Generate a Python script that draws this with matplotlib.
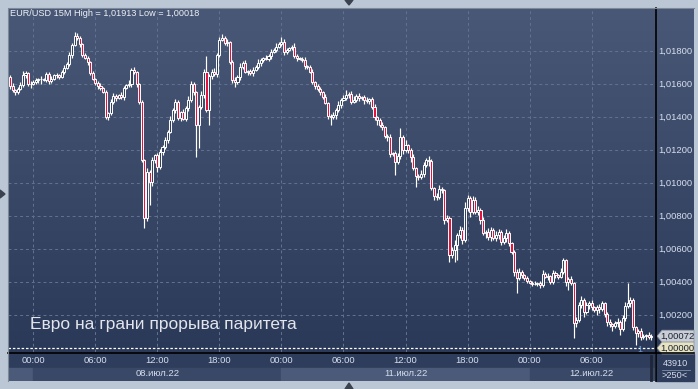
import numpy as np
import matplotlib
matplotlib.use("Agg")
import matplotlib.pyplot as plt
from matplotlib.colors import LinearSegmentedColormap
from matplotlib.lines import Line2D
from matplotlib.patches import Polygon
from matplotlib.transforms import blended_transform_factory

plt.rcParams['font.family'] = ['Liberation Sans', 'DejaVu Sans']

# EUR/USD 15M, цены закрытия по барам (открытие = закрытие предыдущего бара)
first_open = 1.01642
closes = [
    1.01588, 1.01564, 1.01551, 1.01570, 1.01594, 1.01654, 1.01667, 1.01600, 1.01600, 1.01612,
    1.01624, 1.01630, 1.01630, 1.01624, 1.01661, 1.01618, 1.01630, 1.01654, 1.01654, 1.01642,
    1.01673, 1.01697, 1.01721, 1.01776, 1.01836, 1.01891, 1.01879, 1.01842, 1.01776, 1.01758,
    1.01733, 1.01667, 1.01630, 1.01606, 1.01588, 1.01576, 1.01551, 1.01400, 1.01424, 1.01491,
    1.01527, 1.01515, 1.01533, 1.01521, 1.01576, 1.01594, 1.01600, 1.01685, 1.01673, 1.01600,
    1.01491, 1.01139, 1.00788, 1.01067, 1.01006, 1.01139, 1.01170, 1.01097, 1.01188, 1.01218,
    1.01261, 1.01309, 1.01382, 1.01442, 1.01491, 1.01394, 1.01430, 1.01388, 1.01455, 1.01503,
    1.01600, 1.01551, 1.01351, 1.01461, 1.01533, 1.01673, 1.01442, 1.01648, 1.01673, 1.01661,
    1.01776, 1.01867, 1.01879, 1.01848, 1.01854, 1.01733, 1.01624, 1.01612, 1.01642, 1.01703,
    1.01727, 1.01673, 1.01679, 1.01667, 1.01685, 1.01703, 1.01727, 1.01745, 1.01758, 1.01751,
    1.01770, 1.01794, 1.01806, 1.01824, 1.01842, 1.01854, 1.01794, 1.01806, 1.01818, 1.01824,
    1.01770, 1.01758, 1.01751, 1.01745, 1.01709, 1.01703, 1.01673, 1.01612, 1.01588, 1.01570,
    1.01551, 1.01521, 1.01485, 1.01406, 1.01400, 1.01412, 1.01442, 1.01473, 1.01503, 1.01515,
    1.01533, 1.01539, 1.01491, 1.01503, 1.01527, 1.01515, 1.01521, 1.01503, 1.01497, 1.01509,
    1.01461, 1.01400, 1.01382, 1.01351, 1.01339, 1.01285, 1.01279, 1.01176, 1.01182, 1.01127,
    1.01164, 1.01279, 1.01200, 1.01230, 1.01200, 1.01158, 1.01091, 1.01042, 1.01036, 1.01055,
    1.01109, 1.01139, 1.01133, 1.00970, 1.00921, 1.00915, 1.00964, 1.00958, 1.00776, 1.00788,
    1.00564, 1.00594, 1.00624, 1.00685, 1.00715, 1.00655, 1.00849, 1.00909, 1.00824, 1.00897,
    1.00824, 1.00836, 1.00776, 1.00697, 1.00703, 1.00673, 1.00715, 1.00667, 1.00685, 1.00703,
    1.00642, 1.00667, 1.00697, 1.00636, 1.00582, 1.00461, 1.00424, 1.00461, 1.00442, 1.00424,
    1.00406, 1.00394, 1.00388, 1.00388, 1.00394, 1.00382, 1.00449, 1.00430, 1.00436, 1.00400,
    1.00455, 1.00442, 1.00430, 1.00461, 1.00533, 1.00400, 1.00418, 1.00394, 1.00152, 1.00170,
    1.00261, 1.00291, 1.00218, 1.00261, 1.00273, 1.00249, 1.00230, 1.00249, 1.00236, 1.00273,
    1.00206, 1.00158, 1.00146, 1.00133, 1.00152, 1.00158, 1.00115, 1.00182, 1.00255, 1.00273,
    1.00291, 1.00127, 1.00091, 1.00103, 1.00067, 1.00073, 1.00079, 1.00067, 1.00072,
]
# верхние и нижние тени, в пунктах (1e-5)
upper_pts = [
    12, 18, 6, 12, 18, 24, 12, 6, 18, 12,
    12, 6, 18, 6, 12, 12, 18, 6, 12, 6,
    12, 18, 12, 18, 12, 24, 18, 12, 6, 12,
    12, 6, 12, 6, 12, 18, 6, 12, 6, 18,
    18, 12, 6, 18, 12, 6, 24, 12, 18, 6,
    6, 12, 6, 24, 12, 18, 6, 12, 18, 12,
    18, 12, 24, 12, 18, 12, 6, 18, 12, 24,
    18, 12, 6, 12, 24, 18, 100, 12, 18, 24,
    12, 18, 24, 12, 18, 6, 12, 18, 12, 24,
    12, 18, 6, 12, 18, 12, 24, 12, 6, 18,
    12, 18, 12, 24, 12, 30, 18, 12, 6, 12,
    24, 12, 6, 12, 18, 6, 12, 18, 6, 12,
    12, 6, 18, 6, 12, 18, 12, 24, 12, 18,
    30, 12, 18, 24, 12, 18, 6, 12, 18, 6,
    12, 18, 6, 12, 18, 6, 12, 18, 6, 12,
    18, 54, 12, 30, 6, 12, 18, 6, 12, 24,
    18, 12, 24, 12, 6, 18, 24, 12, 6, 18,
    12, 18, 30, 12, 24, 18, 36, 18, 12, 24,
    18, 24, 12, 18, 12, 24, 18, 12, 24, 18,
    12, 18, 24, 12, 6, 12, 18, 24, 12, 6,
    12, 6, 12, 18, 6, 12, 24, 12, 18, 6,
    18, 12, 6, 24, 12, 6, 12, 18, 6, 18,
    18, 24, 12, 18, 12, 18, 6, 12, 18, 12,
    6, 12, 18, 6, 12, 24, 12, 18, 24, 120,
    18, 12, 6, 12, 18, 12, 6, 18, 12,
]
lower_pts = [
    18, 12, 18, 12, 6, 12, 18, 12, 24, 6,
    12, 18, 30, 6, 12, 18, 12, 6, 18, 12,
    6, 12, 6, 12, 18, 6, 12, 18, 12, 6,
    18, 12, 6, 12, 18, 12, 6, 12, 18, 12,
    12, 18, 6, 12, 18, 6, 12, 18, 12, 18,
    12, 12, 60, 18, 140, 24, 18, 30, 12, 18,
    12, 18, 6, 12, 18, 12, 18, 6, 12, 18,
    12, 18, 194, 140, 12, 18, 12, 90, 18, 12,
    18, 12, 6, 12, 18, 12, 18, 30, 12, 18,
    12, 6, 18, 12, 18, 6, 12, 18, 12, 6,
    12, 18, 6, 12, 6, 12, 18, 12, 6, 12,
    12, 18, 6, 12, 18, 12, 6, 12, 18, 12,
    18, 12, 6, 18, 48, 12, 24, 12, 18, 6,
    12, 18, 12, 6, 12, 18, 12, 24, 12, 18,
    12, 18, 30, 12, 18, 12, 24, 18, 12, 78,
    12, 18, 24, 12, 18, 30, 12, 66, 18, 12,
    18, 12, 30, 12, 24, 18, 12, 18, 24, 12,
    42, 18, 72, 90, 18, 24, 12, 18, 30, 12,
    12, 18, 24, 12, 30, 18, 24, 12, 18, 24,
    18, 12, 24, 18, 12, 24, 90, 12, 18, 12,
    12, 6, 12, 6, 12, 18, 12, 6, 18, 12,
    12, 18, 12, 6, 12, 24, 48, 12, 90, 24,
    12, 18, 30, 12, 24, 18, 12, 30, 24, 12,
    18, 24, 18, 30, 12, 24, 36, 12, 18, 12,
    24, 18, 73, 24, 18, 12, 24, 12, 18,
]

tick_bars = [9, 33, 57, 81, 105, 129, 153, 177, 201, 225]
tick_labels = ['00:00', '06:00', '12:00', '18:00', '00:00',
               '06:00', '12:00', '18:00', '00:00', '06:00']
day_labels = ['08.июл.22', '11.июл.22', '12.июл.22']
day_label_bars = [57, 153, 225]
day_bounds = [-1, 9, 105, 201, 249.5]
price_levels = [1.000, 1.002, 1.004, 1.006, 1.008, 1.010, 1.012, 1.014, 1.016, 1.018]
last_price = 1.00072
parity = 1.00000
title = 'EUR/USD 15M High = 1,01913 Low = 1,00018'
caption = 'Евро на грани прорыва паритета'

closes = np.array(closes)
opens = np.concatenate([[first_open], closes[:-1]])
highs = np.maximum(opens, closes) + np.array(upper_pts) * 1e-5
lows = np.minimum(opens, closes) - np.array(lower_pts) * 1e-5
idx = np.arange(len(closes))

W, H = 698, 389
fig = plt.figure(figsize=(W / 100, H / 100), dpi=100)
fig.patch.set_facecolor('#bcc7d5')


def box(x0, y0, x1, y1):
    # пиксели (сверху вниз) -> доли фигуры
    return [x0 / W, 1 - y1 / H, (x1 - x0) / W, (y1 - y0) / H]


def pt(x, y):
    return (x / W, 1 - y / H)


# фон с градиентом (график + правая шкала)
bg = fig.add_axes(box(8, 8, 694, 354))
cmap = LinearSegmentedColormap.from_list('bg', ['#4a5877', '#2b3958'])
bg.imshow(np.linspace(0, 1, 256).reshape(-1, 1), aspect='auto', cmap=cmap,
          extent=[0, 1, 0, 1])
bg.axis('off')

ax = fig.add_axes(box(8, 8, 655, 352))
ax.patch.set_alpha(0)
ax.set_xlim(-0.77, 249.5)
ax.set_ylim(0.99976, 1.02061)
for s in ax.spines.values():
    s.set_visible(False)
ax.set_xticks([])
ax.set_yticks([])

grid_kw = dict(color='#63728f', lw=0.7, ls=(0, (3, 3)), zorder=1)
for lv in price_levels[1:]:
    ax.axhline(lv, **grid_kw)
for b in tick_bars:
    ax.axvline(b, **grid_kw)
ax.axhline(parity, color='white', lw=0.9, ls=(0, (2, 1.5)), zorder=2)

# свечи
ax.vlines(idx, lows, highs, color='white', lw=0.85, zorder=3)
down = closes < opens
body_lo = np.minimum(opens, closes)
body_h = np.maximum(np.abs(closes - opens), 0.00002)
ax.bar(idx[~down], body_h[~down], bottom=body_lo[~down], width=0.8,
       color='#34425f', edgecolor='white', linewidth=0.7, zorder=4)
ax.bar(idx[down], body_h[down], bottom=body_lo[down], width=0.8,
       color='#e3123f', edgecolor='white', linewidth=0.7, zorder=4)

# шкала цен справа
tr = blended_transform_factory(ax.transAxes, ax.transData)
for lv in price_levels[1:]:
    ax.text(1.0046, lv, f'{lv:.5f}'.replace('.', ','), transform=tr,
            ha='left', va='center', fontsize=6.8, color='#d6deee', clip_on=False)

# нижняя шкала времени
tax = fig.add_axes(box(8, 354, 655, 381))
tax.set_facecolor('#2f3d5c')
tax.set_xlim(ax.get_xlim())
tax.set_ylim(0, 1)
tax.axis('off')
tax.add_patch(plt.Rectangle((-0.77, 0), 250.3, 1, color='#2f3d5c', zorder=0))
band_colors = ['#4a5a78', '#3a4867', '#4a5a78', '#3a4867']
for (a, b), c in zip(zip(day_bounds[:-1], day_bounds[1:]), band_colors):
    tax.add_patch(plt.Rectangle((a, 0), b - a, 0.5, color=c, zorder=1))
for b, lab in zip(tick_bars, tick_labels):
    tax.text(b, 0.75, lab, ha='center', va='center', fontsize=6.8, color='#d6deee')
for b, lab in zip(day_label_bars, day_labels):
    tax.text(b, 0.27, lab, ha='center', va='center', fontsize=6.8, color='#d6deee')

# правый нижний угол
fig.add_artist(plt.Rectangle(pt(656, 381), 38 / W, 27 / H, color='#2f3d5c',
                             transform=fig.transFigure))
fig.text(675 / W, 1 - 363 / H, '43910', ha='center', va='center', fontsize=6.6, color='#d6deee')
fig.text(675 / W, 1 - 376 / H, '>250<', ha='center', va='center', fontsize=6.6, color='#d6deee')
fig.add_artist(Line2D([662 / W, 690 / W], [1 - 369.5 / H] * 2, color='#8090a8', lw=0.6))

# рамки
fig.add_artist(Line2D([655.5 / W] * 2, [1 - 8 / H, 1 - 381 / H], color='black', lw=1.2))
fig.add_artist(Line2D([8 / W, 694 / W], [1 - 353 / H] * 2, color='black', lw=1.2))
fig.add_artist(Line2D([651 / W] * 2, [1 - 356 / H, 1 - 380 / H], color='#1e2638', lw=2))
fig.add_artist(Line2D([8 / W, 8 / W, 694 / W], [1 - 381 / H, 1 - 8 / H, 1 - 8 / H],
                      color='#7d8898', lw=0.8))

# метки цены справа
ylast = ax.transData.transform((0, last_price))[1]
ypar = ax.transData.transform((0, parity))[1]
inv = fig.transFigure.inverted()


def tag(yd, text, face):
    yf = inv.transform((0, yd))[1]
    hh = 6 / H
    xs = [657 / W, 662 / W, 694 / W, 694 / W, 662 / W]
    ys = [yf, yf + hh, yf + hh, yf - hh, yf - hh]
    fig.add_artist(Polygon(list(zip(xs, ys)), closed=True, facecolor=face,
                           edgecolor='#8a909a', lw=0.5, transform=fig.transFigure))
    fig.text(677 / W, yf, text, ha='center', va='center', fontsize=6.8, color='#1c2430')


tag(ylast, f'{last_price:.5f}'.replace('.', ','), '#c9cdd5')
tag(ypar, f'{parity:.5f}'.replace('.', ','), '#e6e2c2')

fig.text(640 / W, 1 - 350 / H, '1', ha='center', va='center', fontsize=6.5, color='#6e9ad2')

# заголовок и подпись
fig.text(10 / W, 1 - 13 / H, title, ha='left', va='center', fontsize=6.6, color='#eef1f6')
fig.text(30 / W, 1 - 325 / H, caption, ha='left', va='center', fontsize=12.5, color='#e2e5ec')

# стрелки-маркеры по краям
tri = '#3a4250'
fig.add_artist(Polygon([pt(345, 0), pt(353, 0), pt(349, 5)], color=tri, transform=fig.transFigure))
fig.add_artist(Polygon([pt(345, 389), pt(353, 389), pt(349, 383)], color=tri, transform=fig.transFigure))
fig.add_artist(Polygon([pt(0, 190), pt(0, 198), pt(5, 194)], color=tri, transform=fig.transFigure))

fig.savefig('out.png', dpi=100, facecolor=fig.get_facecolor())
